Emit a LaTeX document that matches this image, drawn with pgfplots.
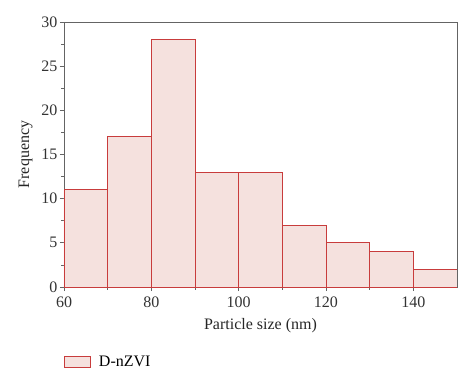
\documentclass[border=0pt]{standalone}
\usepackage{fontspec}
\setmainfont{Liberation Serif}
\usepackage{pgfplots}
\pgfplotsset{compat=1.18}
\definecolor{barfill}{RGB}{245,225,222}
\definecolor{baredge}{RGB}{200,60,60}
\definecolor{axgray}{RGB}{100,100,100}
\begin{document}
\begin{tikzpicture}
\path[use as bounding box] (-64pt,-99pt) rectangle (410pt,287pt);
\begin{axis}[
  at={(0pt,0pt)}, anchor=south west,
  scale only axis, width=393pt, height=265pt,
  xmin=60, xmax=150, ymin=0, ymax=30,
  xtick={60,80,100,120,140}, ytick={0,5,10,15,20,25,30},
  minor x tick num=1, minor y tick num=1,
  tick align=outside, xtick pos=left, ytick pos=left,
  major tick length=4pt, minor tick length=2.5pt,
  axis line style={axgray, line width=0.8pt},
  every tick/.style={axgray, line width=0.7pt},
  /pgf/number format/assume math mode=true,
  tick label style={font=\fontsize{16}{18}\selectfont, text=black!80},
  xticklabel style={yshift=-2pt},
  yticklabel style={xshift=1pt},
  label style={font=\fontsize{16}{18}\selectfont, text=black!85},
  xlabel={Particle size (nm)}, ylabel={Frequency},
  xlabel style={yshift=-4pt},
  ylabel style={yshift=2pt},
  legend style={at={(axis description cs:0,-0.283)}, anchor=west, draw=none, fill=none,
    font=\fontsize{16}{18}\selectfont, inner sep=0pt,
    /tikz/every odd column/.append style={column sep=0pt}},
  legend cell align=left,
  legend image code/.code={\draw[#1, fill=barfill, draw=baredge, line width=0.8pt] (0pt,-5.5pt) rectangle (26pt,5.5pt);},
]
\addplot[ybar interval, fill=barfill, draw=baredge, line width=0.8pt] coordinates {
(60,11) (70,17) (80,28) (90,13) (100,13) (110,7) (120,5) (130,4) (140,2) (150,2)
};
\addlegendentry{\hspace{6pt}D-nZVI}
\end{axis}
\end{tikzpicture}
\end{document}
